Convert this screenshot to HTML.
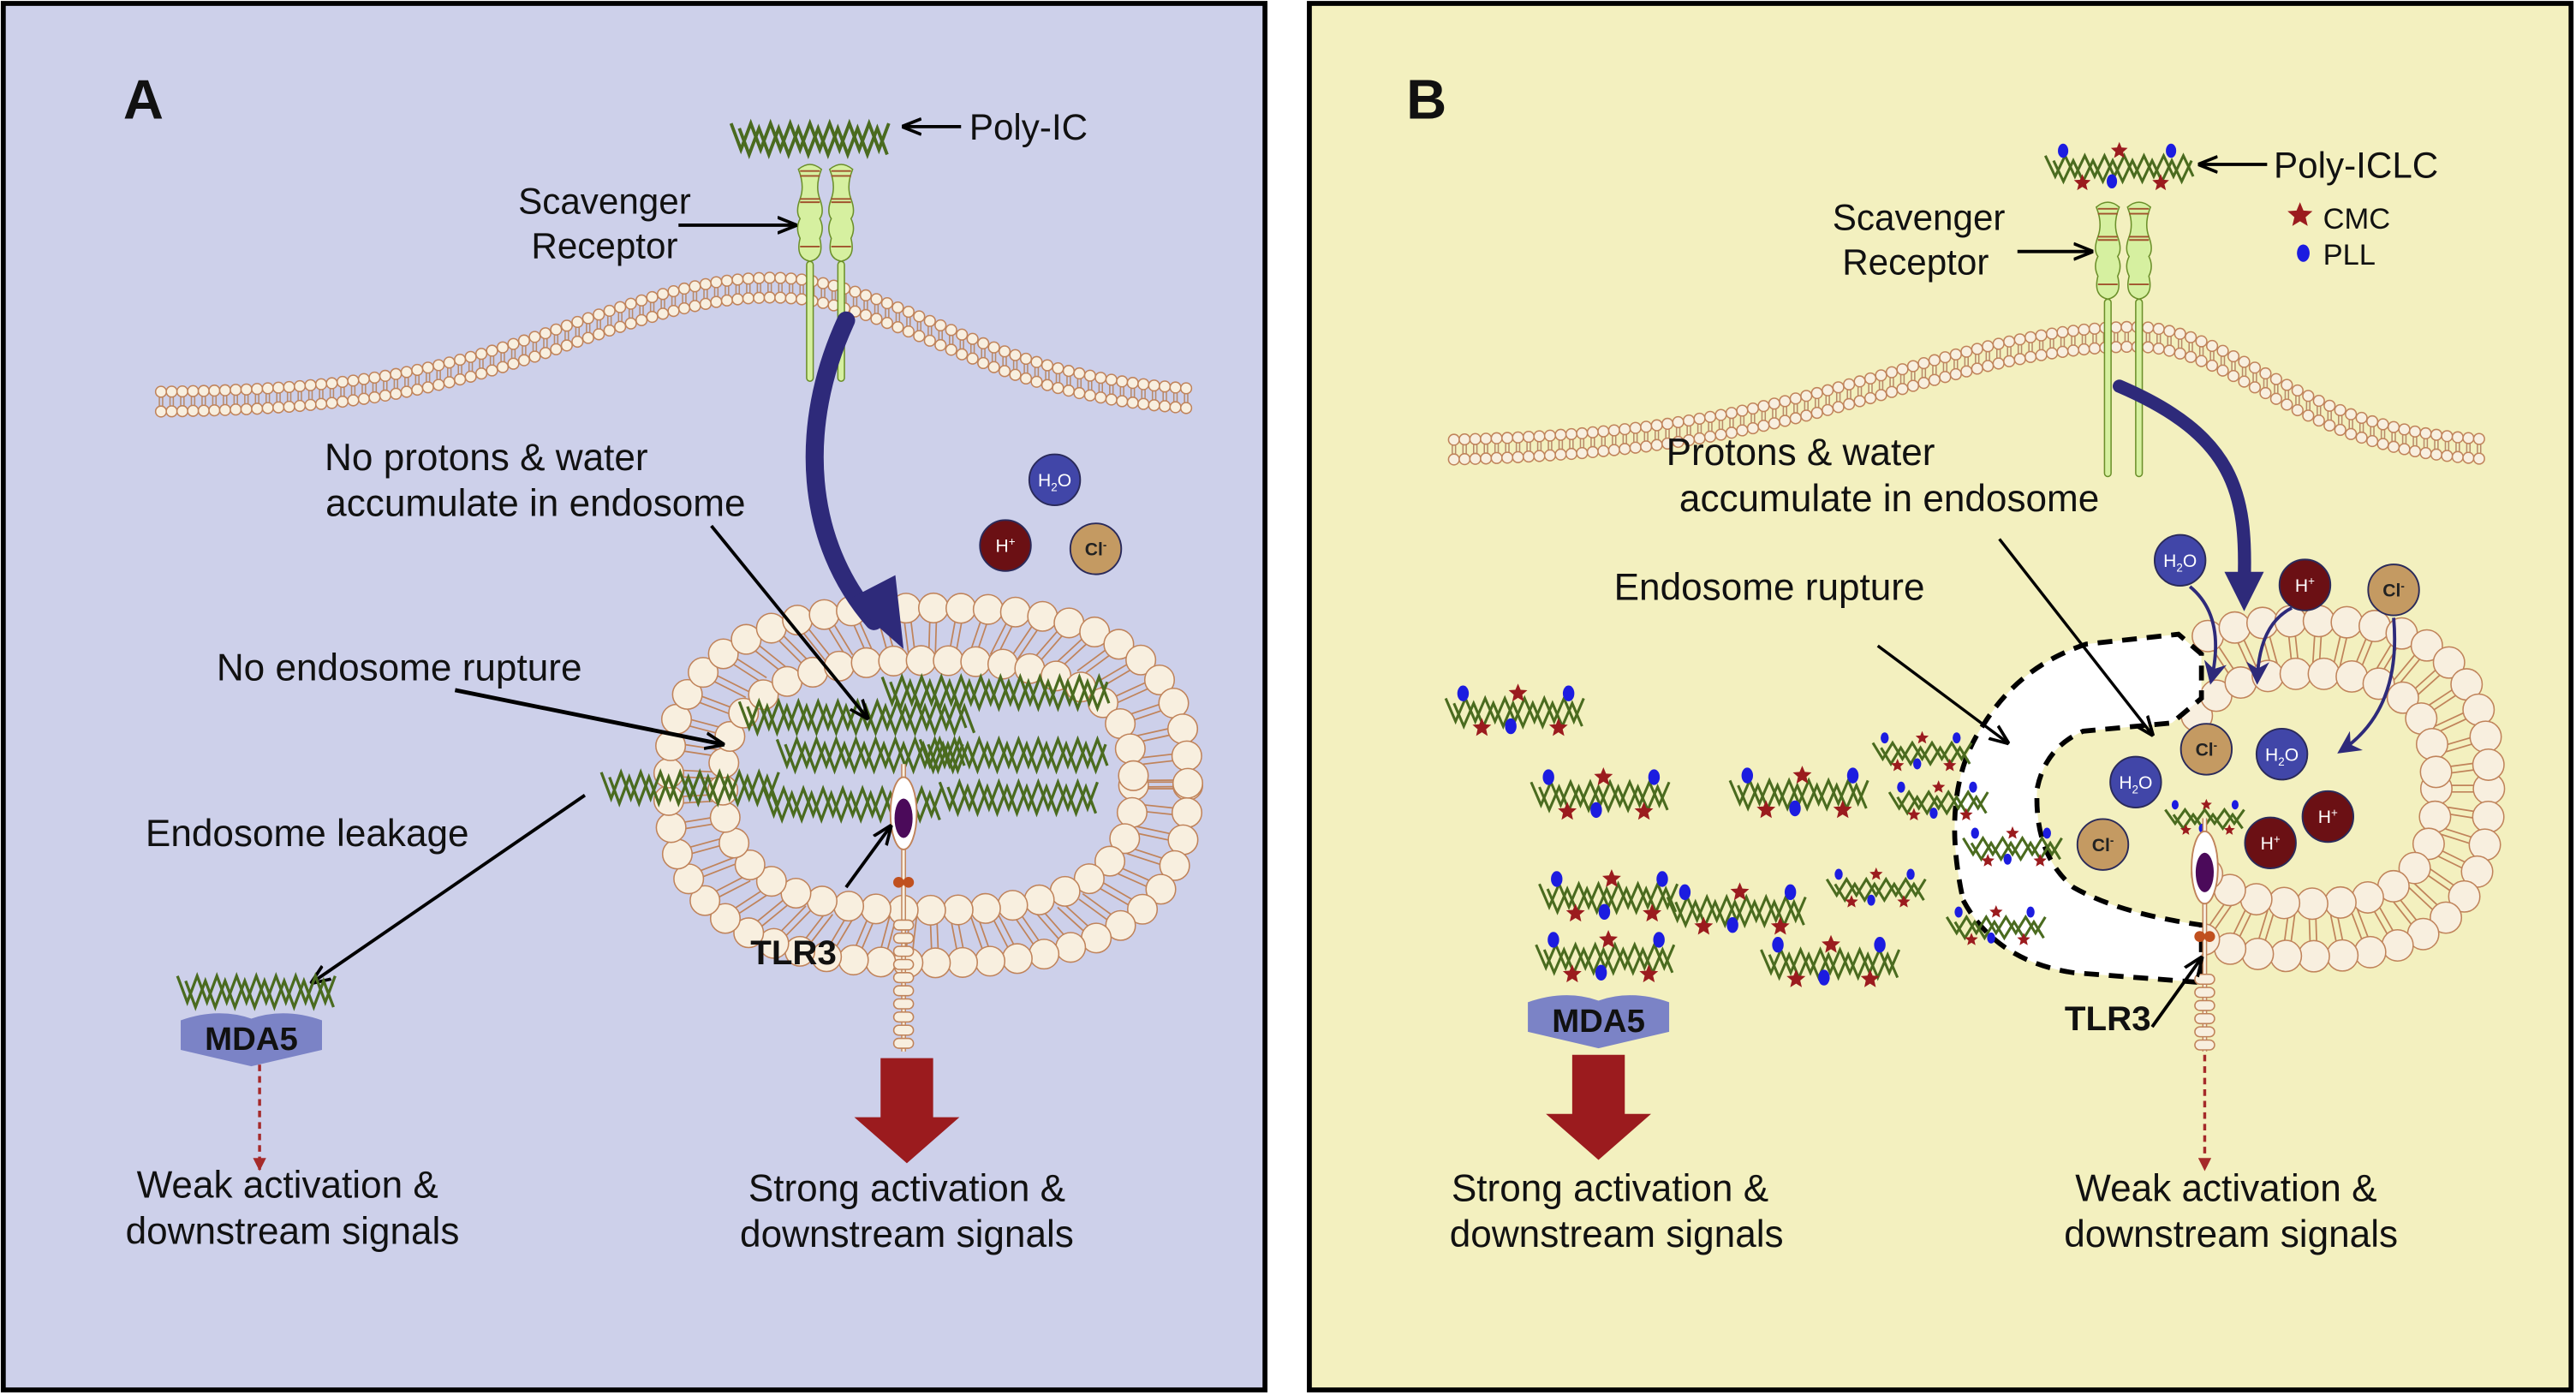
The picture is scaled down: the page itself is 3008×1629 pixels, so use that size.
<!DOCTYPE html>
<html><head><meta charset="utf-8">
<style>
html,body{margin:0;padding:0;background:#fff;}
svg{display:block;}
text{font-family:"Liberation Sans",sans-serif;}
</style></head>
<body>
<svg id="s" xmlns="http://www.w3.org/2000/svg" width="3008" height="1629" viewBox="0 0 1568 849">
<defs>
<marker id="ah2" viewBox="0 0 10 10" refX="9" refY="5" markerWidth="12" markerHeight="12" orient="auto" markerUnits="userSpaceOnUse">
<path d="M0,1 L10,5 L0,9" fill="none" stroke="#000" stroke-width="1.6"/></marker>
<marker id="ahr" viewBox="0 0 10 10" refX="9" refY="5" markerWidth="8" markerHeight="8" orient="auto" markerUnits="userSpaceOnUse">
<path d="M0,0 L10,5 L0,10 Z" fill="#a52a2a"/></marker>
<marker id="ahb" viewBox="0 0 10 10" refX="8" refY="5" markerWidth="14" markerHeight="14" orient="auto" markerUnits="userSpaceOnUse">
<path d="M0,0 L10,5 L0,10 L3,5 Z" fill="#2e2a7a"/></marker>
</defs>
<rect x="2" y="2" width="768" height="844" fill="#cdd0ea" stroke="#000" stroke-width="3"/>
<rect x="797" y="2" width="768" height="844" fill="#f3f0bf" stroke="#000" stroke-width="3"/>
<g id="g"></g>
</svg>
<script>
var o='';
function lipid(x,y,r){return '<circle cx="'+x.toFixed(1)+'" cy="'+y.toFixed(1)+'" r="'+r+'" fill="#f8efdf" stroke="#c0835a" stroke-width="0.8"/>';}
function membrane(x0,x1,f){
  var s='';
  for(var x=x0;x<=x1;x+=6.5){var y=f(x);
    s+='<line x1="'+(x-1)+'" y1="'+(y-4)+'" x2="'+(x-1)+'" y2="'+(y+4)+'" stroke="#b88a6a" stroke-width="0.8"/>';
    s+='<line x1="'+(x+1)+'" y1="'+(y-4)+'" x2="'+(x+1)+'" y2="'+(y+4)+'" stroke="#b88a6a" stroke-width="0.8"/>';
    s+=lipid(x,y-6,3.3)+lipid(x,y+6,3.3);}
  return s;}
function ringPts(cx,cy,a,b,n,sp){
  var pts=[],acc=sp,px=null,py=null;
  for(var i=0;i<=4000;i++){var t=i/4000*2*Math.PI,c=Math.cos(t),s=Math.sin(t);
    var x=cx+a*Math.sign(c)*Math.pow(Math.abs(c),2/n),y=cy+b*Math.sign(s)*Math.pow(Math.abs(s),2/n);
    if(px!==null){acc+=Math.hypot(x-px,y-py);}
    if(acc>=sp){pts.push([x,y]);acc=0;}px=x;py=y;}
  return pts;}
function endosome(cx,cy,a,b,ai,bi,r,filt,sp){
  sp=sp||17;
  var s='',p1=ringPts(cx,cy,a,b,2.6,sp),p2=ringPts(cx,cy,ai,bi,2.6,sp);
  p1.forEach(function(p){if(filt&&!filt(p))return;var dx=cx-p[0],dy=cy-p[1],d=Math.hypot(dx,dy);dx/=d;dy/=d;var nx=-dy,ny=dx;
    for(var k=-1;k<=1;k+=2){s+='<line x1="'+(p[0]+dx*8+nx*2*k)+'" y1="'+(p[1]+dy*8+ny*2*k)+'" x2="'+(p[0]+dx*30+nx*2*k)+'" y2="'+(p[1]+dy*30+ny*2*k)+'" stroke="#c0835a" stroke-width="0.9"/>';}});
  p1.forEach(function(p){if(filt&&!filt(p))return;s+=lipid(p[0],p[1],r);});
  p2.forEach(function(p){if(filt&&!filt(p))return;s+=lipid(p[0],p[1],r);});
  return s;}
function helix(x,y,len,amp,w){
  w=w||1.7;var s='',step=6;
  for(var k=0;k<2;k++){var d='';var i=0;
    for(var xx=x+k*5;xx<=x+len;xx+=step){d+=(i?' L':'M')+xx+','+(y+((i%2)?amp:-amp)+(k?3:0));i++;}
    s+='<path d="'+d+'" fill="none" stroke="#4a6b1f" stroke-width="'+w+'"/>';}
  return s;}
function star(x,y,R){var d='';for(var i=0;i<10;i++){var a=-Math.PI/2+i*Math.PI/5,r=i%2?R*0.45:R;d+=(i?'L':'M')+(x+r*Math.cos(a)).toFixed(1)+','+(y+r*Math.sin(a)).toFixed(1);}return '<path d="'+d+'Z" fill="#9b1b1e"/>';}
function dot(x,y,s){s=s||1;return '<ellipse cx="'+x+'" cy="'+y+'" rx="'+(3.5*s)+'" ry="'+(4.8*s)+'" fill="#1c1ce0"/>';}
function dhelix(x,y,len,sc){sc=sc||1;var amp=7*sc;var s=helix(x,y,len,amp,1.6);
  s+=dot(x+len*0.12,y-amp-3,sc)+star(x+len*0.5,y-amp-3,6*sc)+dot(x+len*0.85,y-amp-3,sc);
  s+=star(x+len*0.25,y+amp+4,6*sc)+dot(x+len*0.45,y+amp+3,sc)+star(x+len*0.78,y+amp+4,6*sc);return s;}
function txt(x,y,t,sz,anc,b){return '<text x="'+x+'" y="'+y+'" font-size="'+sz+'" text-anchor="'+(anc||'middle')+'"'+(b?' font-weight="bold"':'')+' fill="#111">'+t+'</text>';}
function arrow(x1,y1,x2,y2,w){return '<line x1="'+x1+'" y1="'+y1+'" x2="'+x2+'" y2="'+y2+'" stroke="#000" stroke-width="'+(w||2)+'" marker-end="url(#ah2)"/>';}
function ion(x,y,kind){var c={h2o:'#4146a8',h:'#6b1014',cl:'#c49a62'}[kind];
  var s='<circle cx="'+x+'" cy="'+y+'" r="15.5" fill="'+c+'" stroke="#2a2a5a" stroke-width="1"/>';
  var tc=kind=='cl'?'#222':'#fff';
  if(kind=='h2o')s+='<text x="'+x+'" y="'+(y+4)+'" font-size="11" text-anchor="middle" fill="'+tc+'">H<tspan font-size="7" dy="3">2</tspan><tspan dy="-3">O</tspan></text>';
  if(kind=='h')s+='<text x="'+x+'" y="'+(y+4)+'" font-size="11" text-anchor="middle" fill="'+tc+'">H<tspan font-size="7" dy="-4">+</tspan></text>';
  if(kind=='cl')s+='<text x="'+x+'" y="'+(y+4)+'" font-size="11" text-anchor="middle" fill="'+tc+'" font-weight="bold">Cl<tspan font-size="7" dy="-4">-</tspan></text>';
  return s;}
function receptor(x,top,bot){
  var s='<rect x="'+(x-2)+'" y="'+(top+60)+'" width="4" height="'+(bot-top-60)+'" rx="2" fill="#d6f0a0" stroke="#6b8f2a" stroke-width="0.8"/>';
  var d='M'+(x-7)+','+(top+4)+' Q'+x+','+(top-2)+' '+(x+7)+','+(top+4)+' Q'+(x+3)+','+(top+14)+' '+(x+6)+','+(top+22)+' Q'+(x+9)+','+(top+30)+' '+(x+6)+','+(top+34)+' Q'+(x+9)+','+(top+40)+' '+(x+6)+','+(top+46)+' Q'+(x+9)+','+(top+58)+' '+x+','+(top+60)+' Q'+(x-9)+','+(top+58)+' '+(x-6)+','+(top+46)+' Q'+(x-9)+','+(top+40)+' '+(x-6)+','+(top+34)+' Q'+(x-9)+','+(top+30)+' '+(x-6)+','+(top+22)+' Q'+(x-3)+','+(top+14)+' '+(x-7)+','+(top+4)+'Z';
  s+='<path d="'+d+'" fill="#d6f0a0" stroke="#6b8f2a" stroke-width="0.8"/>';
  [5,8,22,24,51].forEach(function(dy){s+='<line x1="'+(x-6)+'" y1="'+(top+dy)+'" x2="'+(x+6)+'" y2="'+(top+dy)+'" stroke="#a0522d" stroke-width="1"/>';});
  return s;}
function tlr3(x,y,bot){var s='<line x1="'+x+'" y1="'+(y-30)+'" x2="'+x+'" y2="'+bot+'" stroke="#c0835a" stroke-width="3"/><line x1="'+x+'" y1="'+(y-30)+'" x2="'+x+'" y2="'+bot+'" stroke="#f8efdf" stroke-width="1.5"/>';
  s+='<ellipse cx="'+x+'" cy="'+y+'" rx="8" ry="22" fill="#fff" stroke="#c0835a" stroke-width="1"/>';
  s+='<ellipse cx="'+x+'" cy="'+(y+3)+'" rx="5.5" ry="12" fill="#4b0a5a"/>';
  s+='<circle cx="'+(x-3)+'" cy="'+(y+42)+'" r="3.3" fill="#c0501e"/><circle cx="'+(x+3)+'" cy="'+(y+42)+'" r="3.3" fill="#c0501e"/>';
  for(var yy=y+65;yy<bot-4;yy+=8){s+='<rect x="'+(x-6)+'" y="'+yy+'" width="12" height="6" rx="3" fill="#f8efdf" stroke="#c0835a" stroke-width="0.8"/>';}
  return s;}
function bigArrow(x,y1,y2){return '<path d="M'+(x-16)+','+y1+' L'+(x+16)+','+y1+' L'+(x+16)+','+(y2-28)+' L'+(x+32)+','+(y2-28)+' L'+x+','+y2+' L'+(x-32)+','+(y2-28)+' L'+(x-16)+','+(y2-28)+'Z" fill="#9b1b1e"/>';}
function mda5(x,y){return '<path d="M'+(x-43)+','+(y-10)+' Q'+(x-20)+','+(y-18)+' '+x+','+(y-11)+' Q'+(x+20)+','+(y-18)+' '+(x+43)+','+(y-10)+' L'+(x+43)+','+(y+8)+' L'+x+','+(y+18)+' L'+(x-43)+','+(y+8)+'Z" fill="#7b83c6"/>'+txt(x,y+8,'MDA5',20,'middle',true);}

/* ===== Panel A ===== */
o+=txt(75,72,'A',34,'start',true);
o+=membrane(98,722,function(x){var sg=x<470?170:140;return 245-70*Math.exp(-Math.pow((x-470)/sg,2));});
o+=receptor(493,99,232)+receptor(512,99,232);
o+=helix(445,83,100,8,2);
o+=arrow(585,77,550,77,2);
o+=txt(590,85,'Poly-IC',22,'start');
o+=txt(368,130,'Scavenger',22)+txt(368,157,'Receptor',22);
o+=arrow(413,137,484,137,2);
o+=endosome(565,478,158,108,125,76,9,null,16.5);
o+='<path d="M515,195 C485,260 490,330 532,378" fill="none" stroke="#2e2a7a" stroke-width="11" stroke-linecap="round"/>';
o+='<path d="M516,365 L550,395 L545,350 Z" fill="#2e2a7a"/>';
o+=helix(537,420,140,8)+helix(450,435,143,8)+helix(473,458,115,8)+helix(560,458,115,8)+helix(465,488,110,8)+helix(572,484,100,8)+helix(366,478,110,8);
o+=tlr3(550,495,640);
o+=ion(642,292,'h2o')+ion(612,332,'h')+ion(667,334,'cl');
o+=txt(296,286,'No protons &amp; water',23)+txt(326,314,'accumulate in endosome',23);
o+=arrow(433,320,528,437,2);
o+=txt(243,414,'No endosome rupture',23);
o+=arrow(277,420,440,453,2.5);
o+=txt(187,515,'Endosome leakage',23);
o+=arrow(356,484,190,598,2);
o+=arrow(515,540,542,503,2);
o+=txt(483,587,'TLR3',21,'middle',true);
o+=helix(108,602,100,8);
o+=mda5(153,631);
o+='<line x1="158" y1="648" x2="158" y2="712" stroke="#a52a2a" stroke-width="1.8" stroke-dasharray="4,3" marker-end="url(#ahr)"/>';
o+=txt(175,729,'Weak activation &amp;',23)+txt(178,757,'downstream signals',23);
o+=bigArrow(552,644,708);
o+=txt(552,731,'Strong activation &amp;',23)+txt(552,759,'downstream signals',23);

/* ===== Panel B ===== */
o+=txt(856,72,'B',34,'start',true);
o+=membrane(885,1512,function(x){var sg=x<1300?210:110;return 275-70*Math.exp(-Math.pow((x-1300)/sg,2));});
o+=receptor(1283,122,290)+receptor(1302,122,290);
o+=dhelix(1245,101,90,0.9);
o+=arrow(1380,100,1339,100,2);
o+=txt(1384,108,'Poly-ICLC',22,'start');
o+=star(1400,131,8)+txt(1414,139,'CMC',18,'start');
o+=dot(1402,154,1.1)+txt(1414,161,'PLL',18,'start');
o+=txt(1168,140,'Scavenger',22)+txt(1166,167,'Receptor',22);
o+=arrow(1228,153,1273,153,2);
o+=endosome(1405,480,110,102,78,70,9.5,function(p){return p[0]>1336;},17);
o+='<path d="M1195,548 Q1215,585 1262,592 L1340,598 L1340,563 Q1290,556 1262,540 Q1238,520 1240,480 Q1245,455 1268,445 L1322,440 L1340,425 L1340,398 L1326,386 L1270,392 Q1230,405 1208,440 Q1180,480 1195,548Z" fill="#fff" stroke="#000" stroke-width="3" stroke-dasharray="9,6"/>';
o+='<path d="M1290,235 C1360,265 1368,300 1366,355" fill="none" stroke="#2e2a7a" stroke-width="8" stroke-linecap="round"/>';
o+='<path d="M1354,348 L1366,372 L1378,348 Z" fill="#2e2a7a"/>';
o+=ion(1327,341,'h2o')+ion(1403,356,'h')+ion(1457,359,'cl');
o+='<path d="M1333,357 Q1355,375 1346,414" fill="none" stroke="#2e2a7a" stroke-width="2" marker-end="url(#ahb)"/>';
o+='<path d="M1395,370 Q1375,380 1374,414" fill="none" stroke="#2e2a7a" stroke-width="2" marker-end="url(#ahb)"/>';
o+='<path d="M1457,376 Q1462,432 1425,457" fill="none" stroke="#2e2a7a" stroke-width="2" marker-end="url(#ahb)"/>';
o+=ion(1343,456,'cl')+ion(1389,459,'h2o')+ion(1300,476,'h2o')+ion(1280,514,'cl')+ion(1382,513,'h')+ion(1417,497,'h');
o+=dhelix(1318,497,50,0.6);
o+=tlr3(1342,528,640);
var hs=[[880,432,88,1],[932,483,88,1],[1053,482,88,1],[937,545,88,1],[1015,553,88,1],[935,582,88,1],[1072,585,85,1],[1140,457,60,0.7],[1150,487,60,0.7],[1112,540,60,0.7],[1185,563,60,0.7],[1195,515,60,0.7]];
hs.forEach(function(h){o+=dhelix(h[0],h[1],h[2],h[3]);});
o+=txt(1096,283,'Protons &amp; water',23)+txt(1150,311,'accumulate in endosome',23);
o+=arrow(1217,328,1310,447,1.8);
o+=txt(1077,365,'Endosome rupture',23);
o+=arrow(1143,393,1222,452,1.8);
o+=arrow(1310,625,1340,583,2);
o+=txt(1283,627,'TLR3',21,'middle',true);
o+=mda5(973,620);
o+=bigArrow(973,642,706);
o+=txt(980,731,'Strong activation &amp;',23)+txt(984,759,'downstream signals',23);
o+='<line x1="1342" y1="642" x2="1342" y2="712" stroke="#a52a2a" stroke-width="1.8" stroke-dasharray="4,3" marker-end="url(#ahr)"/>';
o+=txt(1355,731,'Weak activation &amp;',23)+txt(1358,759,'downstream signals',23);
document.getElementById('g').innerHTML=o;
</script>
</body></html>
